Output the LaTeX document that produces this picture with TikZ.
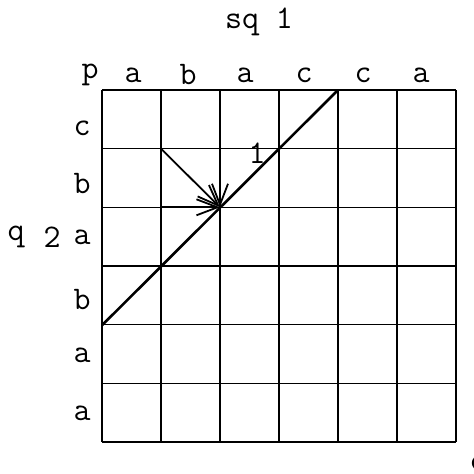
\documentclass[tikz,border=0pt]{standalone}
\usetikzlibrary{arrows.meta}

\begin{document}
\begin{tikzpicture}[x=1pt,y=-1pt,
		lbl/.style={font=\ttfamily\fontsize{33}{38}\selectfont,inner sep=0pt},
		gridline/.style={line width=1.3pt},
		pathline/.style={line width=2.6pt},
		moveline/.style={line width=1.8pt,-{Straight Barb[length=21pt,width=16pt,line width=1.8pt]}}]
				\useasboundingbox (0,0) rectangle (474,474);
				% grid
				\foreach \i in {0,...,6}{
					\draw[gridline] (102+59*\i,90)--(102+59*\i,442);
					\draw[gridline] (102,90+58.67*\i)--(456,90+58.67*\i);
				}
				\coordinate (S) at (102,325.3);
				\coordinate (E) at (338,90);
				\coordinate (T) at (220,207.3);
				\coordinate (D) at (161,148.7);
				\coordinate (U) at (220,148.7);
				\coordinate (L) at (161,207.3);

				\draw[pathline] (S)--(E);
				\draw[moveline] (D)--(T);
				\draw[moveline] (U)--(T);
				\draw[moveline] (L)--(T);

				% labels
				\node[lbl] (title) at (259,22) {sq 1};
				\node[lbl] (tp) at (90,75) {p};
				\foreach \x/\c [count=\k] in {133/a,188/b,245/a,304/c,363/c,421/a}
					\node[lbl] (t\k) at (\x,75) {\c};
				\foreach \y/\c [count=\k] in {128/c,184/b,237/a,300/b,355/a,413/a}
					\node[lbl] (s\k) at (82,\y) {\c};
				\node[lbl] (q) at (16,237) {q};
				\node[lbl] (two) at (52,237) {2};
				\node[lbl] (one) at (257,153) {1};
				\node[lbl] (qb) at (479,467) {q};
			\end{tikzpicture}
\end{document}
